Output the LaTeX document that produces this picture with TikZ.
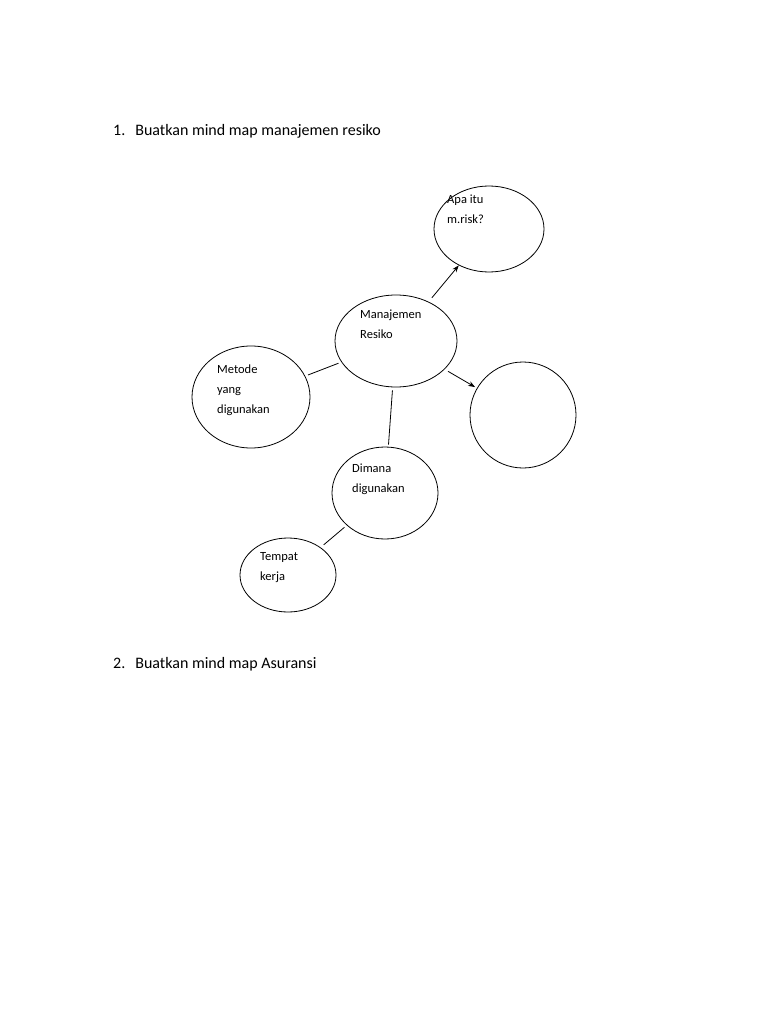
\documentclass[tikz,border=0pt]{standalone}
\usepackage{fontspec}
\setmainfont{Carlito}
\usetikzlibrary{arrows.meta,shapes.geometric}
\begin{document}
\begin{tikzpicture}[x=1pt,y=-1pt,
  bub/.style={draw,ellipse,line width=0.8pt,inner sep=0pt},
  lbl/.style={anchor=north west,align=left,font=\fontsize{12.5}{20}\selectfont,inner sep=0pt},
  ttl/.style={anchor=west,font=\fontsize{16}{19}\selectfont,inner sep=0pt},
  con/.style={line width=0.8pt},
  arr/.style={con,-{Stealth[length=7pt,width=5pt]}}]
\useasboundingbox (0,0) rectangle (768,1024);
\node[ttl] (t1) at (113,131) {1.\hspace{10pt}Buatkan mind map manajemen resiko};
\node[ttl] (t2) at (113,664) {2.\hspace{10pt}Buatkan mind map Asuransi};
\node[bub,minimum width=110pt,minimum height=86pt] (a) at (489,229) {};
\node[bub,minimum width=122pt,minimum height=92pt] (m) at (396,341) {};
\node[bub,minimum width=118pt,minimum height=102pt] (k) at (251,397) {};
\node[bub,minimum width=106pt,minimum height=106pt] (e) at (523,415) {};
\node[bub,minimum width=106pt,minimum height=92pt] (d) at (385,493) {};
\node[bub,minimum width=96pt,minimum height=74pt] (p) at (288,575) {};
\node[lbl] (la) at (447,195) {Apa itu\\m.risk?};
\node[lbl] (lm) at (360,310) {Manajemen\\Resiko};
\node[lbl] (lk) at (217,365) {Metode\\yang\\digunakan};
\node[lbl] (ld) at (352,464) {Dimana\\digunakan};
\node[lbl] (lp) at (260,552) {Tempat\\kerja};
\draw[arr,shorten <=5pt,shorten >=0pt] (m) -- (a);
\draw[arr,shorten <=4pt,shorten >=2pt] (m) -- (e);
\draw[con,shorten <=3pt,shorten >=3pt] (m) -- (k);
\draw[con,shorten <=3pt,shorten >=2pt] (m) -- (d);
\draw[con,shorten <=3pt,shorten >=4pt] (d) -- (p);
\end{tikzpicture}
\end{document}
